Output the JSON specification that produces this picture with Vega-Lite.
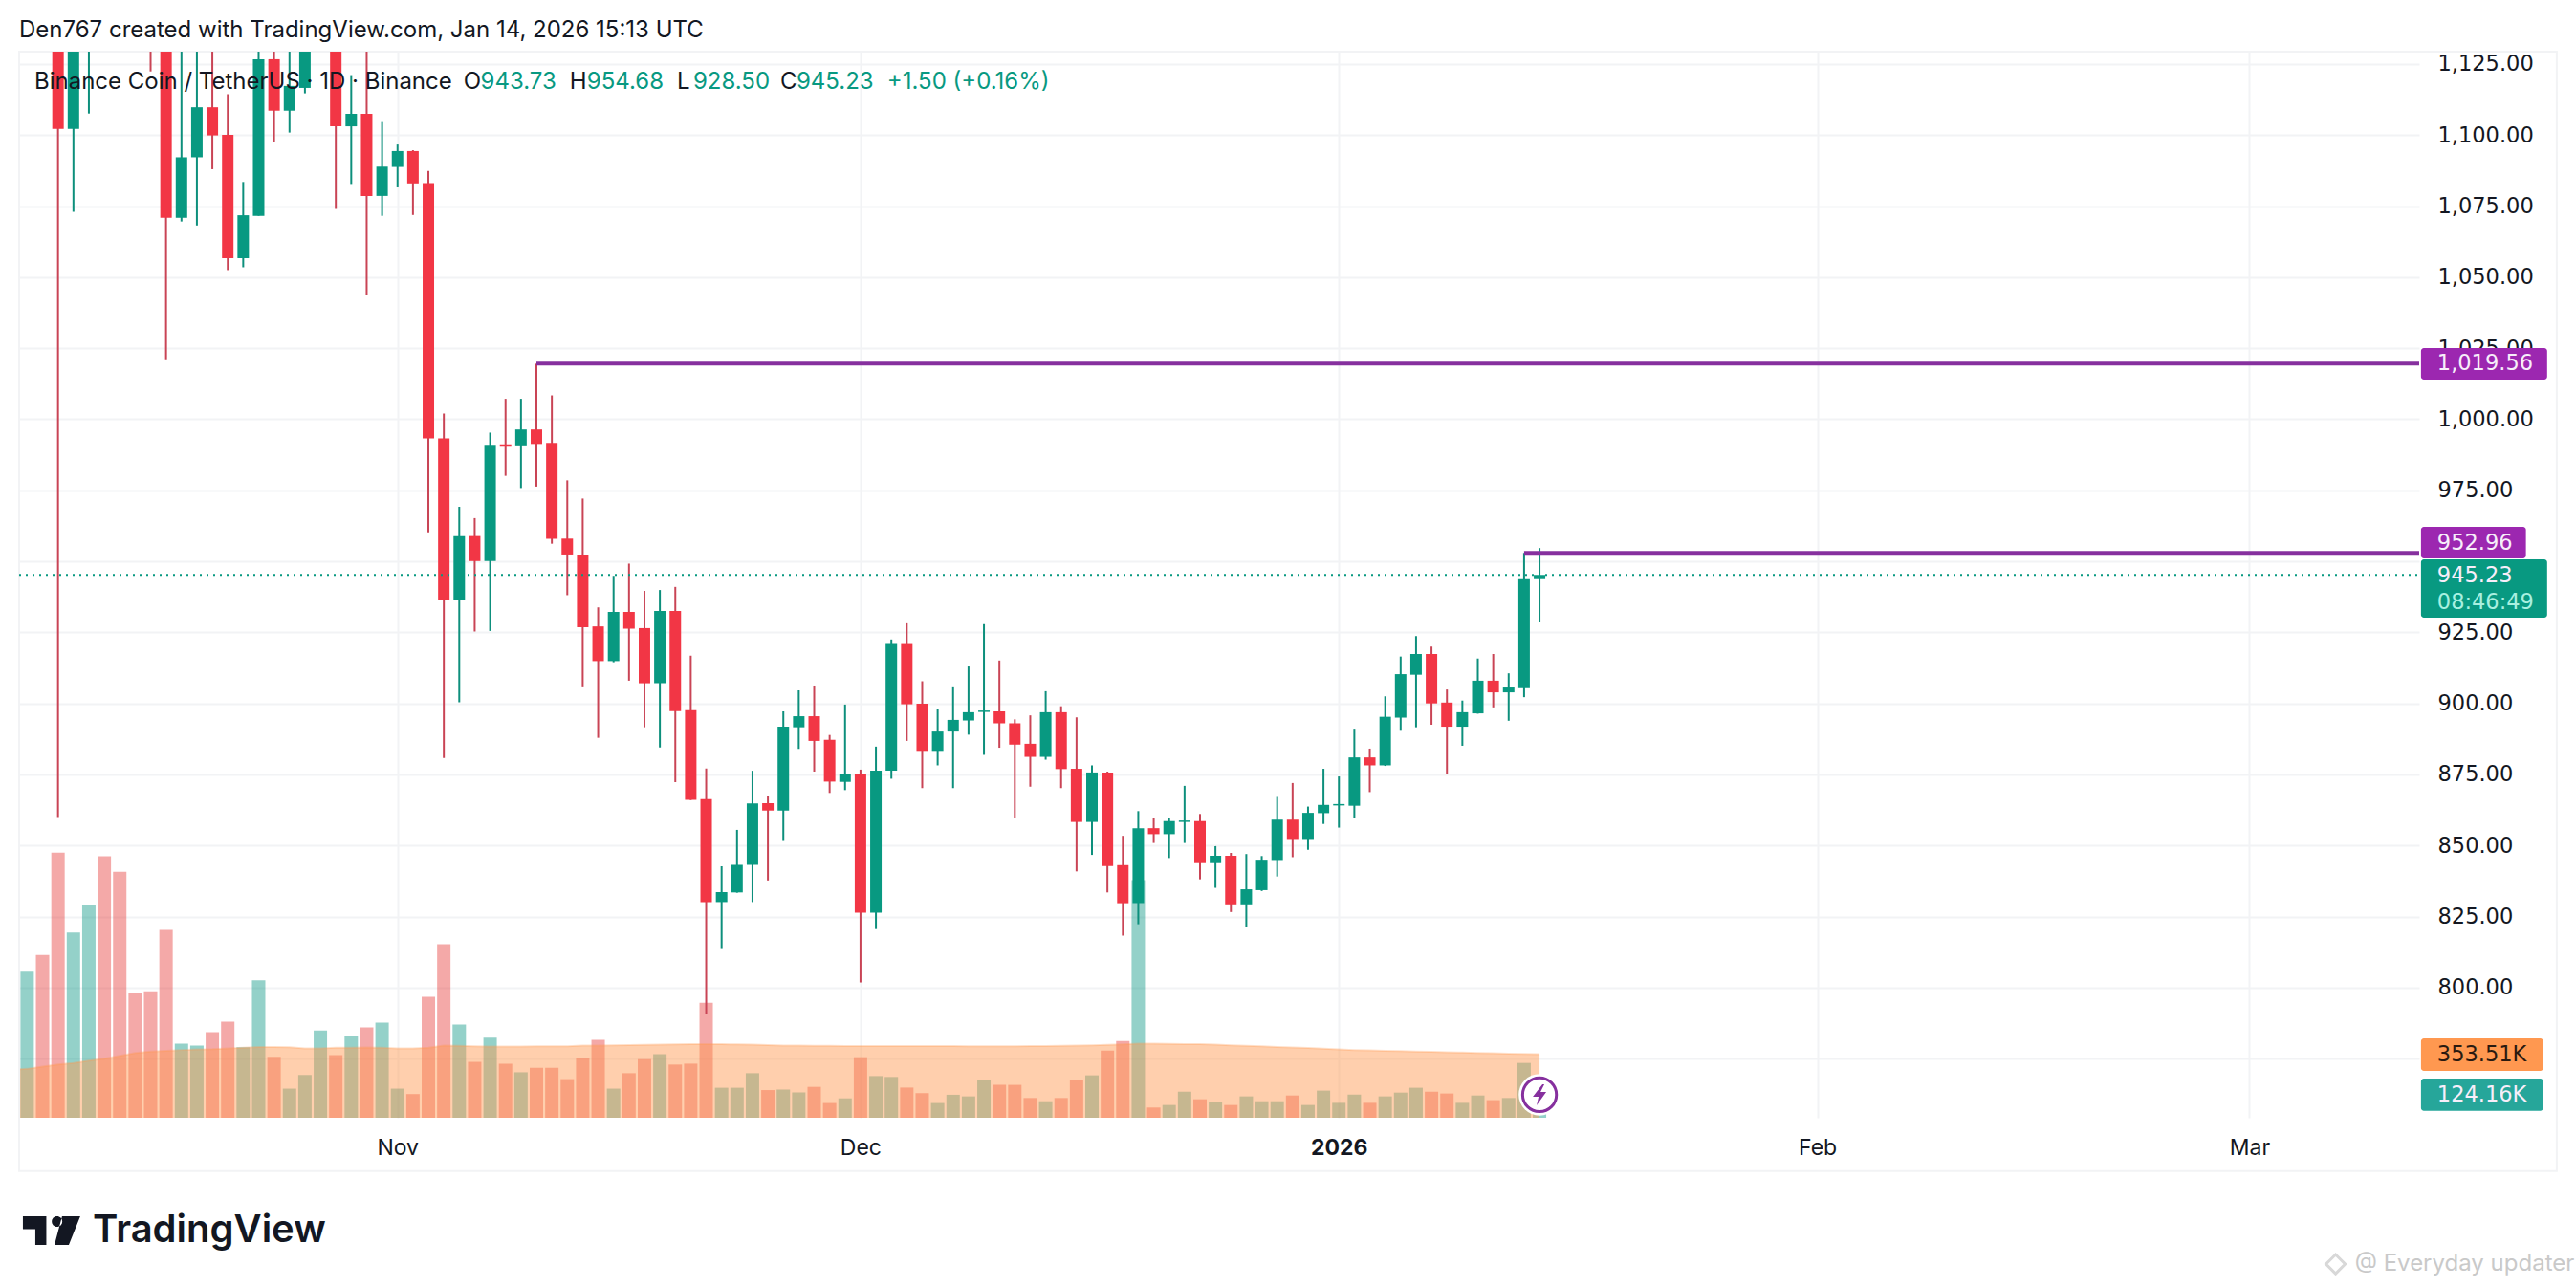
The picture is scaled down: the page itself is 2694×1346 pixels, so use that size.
{
"$schema":"https://vega.github.io/schema/vega-lite/v6.json",
"width":2510,"height":1115,"autosize":"none",
"padding":{"left":20,"top":54,"right":164,"bottom":177},
"background":"white",
"config":{"view":{"stroke":null},"font":"Inter"},
"title":{"text":"Den767 created with TradingView.com, Jan 14, 2026 15:13 UTC","anchor":"start","frame":"group","font":"Inter","fontSize":24,"fontWeight":"normal","color":"#131722","offset":9},
"datasets":{
"candles":[
{"date":"2025-10-07","open":1130,"high":1150,"low":1131,"close":1140,"volume":300,"ma":268},
{"date":"2025-10-08","open":1140,"high":1175,"low":1132,"close":1165,"volume":812,"ma":272},
{"date":"2025-10-09","open":1165,"high":1170,"low":1135,"close":1140,"volume":906,"ma":285},
{"date":"2025-10-10","open":1165,"high":1175,"low":860,"close":1102.2,"volume":1475,"ma":297},
{"date":"2025-10-11","open":1102.2,"high":1170,"low":1073,"close":1160,"volume":1030,"ma":305},
{"date":"2025-10-12","open":1135,"high":1175,"low":1107.6,"close":1170,"volume":1184,"ma":318},
{"date":"2025-10-13","open":1170,"high":1180,"low":1135,"close":1150,"volume":1455,"ma":328},
{"date":"2025-10-14","open":1150,"high":1155,"low":1132,"close":1135,"volume":1369,"ma":345},
{"date":"2025-10-15","open":1148,"high":1155,"low":1132,"close":1140,"volume":693,"ma":360},
{"date":"2025-10-16","open":1160,"high":1170,"low":1122.4,"close":1140,"volume":703,"ma":368},
{"date":"2025-10-17","open":1140,"high":1150,"low":1021.1,"close":1070.9,"volume":1045,"ma":373},
{"date":"2025-10-18","open":1070.9,"high":1135,"low":1069.6,"close":1092.2,"volume":412,"ma":377},
{"date":"2025-10-19","open":1092.2,"high":1135,"low":1068.2,"close":1109.8,"volume":402,"ma":380},
{"date":"2025-10-20","open":1109.8,"high":1135,"low":1088,"close":1099.9,"volume":476,"ma":382},
{"date":"2025-10-21","open":1100.1,"high":1114.4,"low":1052.5,"close":1056.7,"volume":534,"ma":386},
{"date":"2025-10-22","open":1056.7,"high":1083.5,"low":1053.5,"close":1071.8,"volume":392,"ma":390},
{"date":"2025-10-23","open":1071.6,"high":1135,"low":1071.6,"close":1126.7,"volume":764,"ma":393},
{"date":"2025-10-24","open":1126.7,"high":1135,"low":1097.6,"close":1108.6,"volume":339,"ma":393},
{"date":"2025-10-25","open":1108.6,"high":1135,"low":1100.9,"close":1117.3,"volume":162,"ma":392},
{"date":"2025-10-26","open":1116.6,"high":1140,"low":1114.7,"close":1135,"volume":238,"ma":386},
{"date":"2025-10-27","open":1135,"high":1150,"low":1131,"close":1145,"volume":486,"ma":386},
{"date":"2025-10-28","open":1145,"high":1160,"low":1074,"close":1103.1,"volume":349,"ma":389},
{"date":"2025-10-29","open":1103.1,"high":1121.1,"low":1082.8,"close":1107.5,"volume":455,"ma":390},
{"date":"2025-10-30","open":1107.5,"high":1132,"low":1043.6,"close":1078.6,"volume":503,"ma":391},
{"date":"2025-10-31","open":1078.6,"high":1104.6,"low":1071.6,"close":1088.9,"volume":529,"ma":390},
{"date":"2025-11-01","open":1088.8,"high":1096.7,"low":1081.6,"close":1094.4,"volume":162,"ma":386},
{"date":"2025-11-02","open":1094.4,"high":1094.7,"low":1071.9,"close":1083,"volume":132,"ma":385},
{"date":"2025-11-03","open":1083.1,"high":1087.4,"low":960.2,"close":993.3,"volume":673,"ma":390},
{"date":"2025-11-04","open":993.3,"high":1002,"low":880.8,"close":936.4,"volume":966,"ma":401},
{"date":"2025-11-05","open":936.4,"high":969.2,"low":900.4,"close":958.9,"volume":519,"ma":400},
{"date":"2025-11-06","open":958.9,"high":965.2,"low":925.3,"close":950.1,"volume":311,"ma":398},
{"date":"2025-11-07","open":950.1,"high":995.3,"low":925.5,"close":991,"volume":445,"ma":396},
{"date":"2025-11-08","open":991.2,"high":1007.2,"low":980.1,"close":990.7,"volume":301,"ma":396},
{"date":"2025-11-09","open":990.8,"high":1007.2,"low":975.8,"close":996.4,"volume":253,"ma":396},
{"date":"2025-11-10","open":996.4,"high":1019.56,"low":976.3,"close":991.3,"volume":278,"ma":397},
{"date":"2025-11-11","open":991.7,"high":1008.4,"low":956.2,"close":957.9,"volume":278,"ma":397},
{"date":"2025-11-12","open":958,"high":978.5,"low":938.1,"close":952.4,"volume":215,"ma":398},
{"date":"2025-11-13","open":952.4,"high":972.1,"low":906,"close":926.8,"volume":331,"ma":401},
{"date":"2025-11-14","open":927.1,"high":933.8,"low":887.9,"close":914.9,"volume":433,"ma":402},
{"date":"2025-11-15","open":914.9,"high":944.9,"low":914.5,"close":932.2,"volume":162,"ma":403},
{"date":"2025-11-16","open":932.2,"high":949.2,"low":908,"close":926.3,"volume":248,"ma":404},
{"date":"2025-11-17","open":926.5,"high":939.6,"low":891.6,"close":907.1,"volume":326,"ma":406},
{"date":"2025-11-18","open":907.1,"high":939.9,"low":884.5,"close":932.5,"volume":354,"ma":407},
{"date":"2025-11-19","open":932.5,"high":941,"low":872.3,"close":897.3,"volume":296,"ma":408},
{"date":"2025-11-20","open":897.6,"high":916.8,"low":866,"close":866.1,"volume":301,"ma":409},
{"date":"2025-11-21","open":866.3,"high":877.1,"low":790.7,"close":830.1,"volume":640,"ma":410},
{"date":"2025-11-22","open":830.1,"high":842.7,"low":813.9,"close":833.6,"volume":167,"ma":409},
{"date":"2025-11-23","open":833.5,"high":855.5,"low":833.4,"close":843.2,"volume":167,"ma":408},
{"date":"2025-11-24","open":843.2,"high":876.3,"low":830.1,"close":864.8,"volume":248,"ma":407},
{"date":"2025-11-25","open":864.9,"high":867.6,"low":837.7,"close":862.3,"volume":154,"ma":404},
{"date":"2025-11-26","open":862.3,"high":897.2,"low":851.6,"close":891.8,"volume":157,"ma":402},
{"date":"2025-11-27","open":891.6,"high":904.6,"low":884,"close":895.5,"volume":141,"ma":401},
{"date":"2025-11-28","open":895.5,"high":906.3,"low":876,"close":886.8,"volume":172,"ma":400},
{"date":"2025-11-29","open":887.2,"high":888.9,"low":868.5,"close":872.5,"volume":82,"ma":400},
{"date":"2025-11-30","open":872.4,"high":899.6,"low":869.5,"close":875.3,"volume":108,"ma":399},
{"date":"2025-12-01","open":875.3,"high":876.7,"low":801.8,"close":826.4,"volume":337,"ma":399},
{"date":"2025-12-02","open":826.4,"high":884.8,"low":820.6,"close":876.3,"volume":232,"ma":399},
{"date":"2025-12-03","open":876.3,"high":922.5,"low":873.5,"close":920.9,"volume":227,"ma":399},
{"date":"2025-12-04","open":920.9,"high":928.2,"low":886.8,"close":899.7,"volume":168,"ma":399},
{"date":"2025-12-05","open":899.9,"high":907.8,"low":870.2,"close":883.3,"volume":137,"ma":399},
{"date":"2025-12-06","open":883.3,"high":897.9,"low":878.2,"close":890.1,"volume":82,"ma":399},
{"date":"2025-12-07","open":890.1,"high":906,"low":870.2,"close":894.2,"volume":128,"ma":399},
{"date":"2025-12-08","open":894,"high":913,"low":889,"close":896.9,"volume":119,"ma":398},
{"date":"2025-12-09","open":897,"high":927.9,"low":881.9,"close":897.5,"volume":209,"ma":398},
{"date":"2025-12-10","open":897.2,"high":915.1,"low":884.4,"close":893,"volume":183,"ma":398},
{"date":"2025-12-11","open":893,"high":894.4,"low":859.7,"close":885.5,"volume":183,"ma":398},
{"date":"2025-12-12","open":885.8,"high":895.8,"low":870.7,"close":881.2,"volume":110,"ma":399},
{"date":"2025-12-13","open":881.2,"high":904.3,"low":880.2,"close":896.9,"volume":92,"ma":399},
{"date":"2025-12-14","open":896.9,"high":899,"low":870.2,"close":876.9,"volume":110,"ma":400},
{"date":"2025-12-15","open":877,"high":895.1,"low":840.9,"close":858.3,"volume":209,"ma":401},
{"date":"2025-12-16","open":858.3,"high":878.2,"low":846.7,"close":875.7,"volume":236,"ma":403},
{"date":"2025-12-17","open":875.7,"high":876,"low":833.5,"close":842.8,"volume":374,"ma":405},
{"date":"2025-12-18","open":843.1,"high":853.4,"low":818.3,"close":829.7,"volume":427,"ma":408},
{"date":"2025-12-19","open":829.7,"high":862.1,"low":822.3,"close":856.1,"volume":1322,"ma":412},
{"date":"2025-12-20","open":856.1,"high":859.6,"low":850.9,"close":854,"volume":57,"ma":412},
{"date":"2025-12-21","open":854,"high":859.7,"low":845.6,"close":858.6,"volume":71,"ma":411},
{"date":"2025-12-22","open":858.3,"high":871,"low":850.9,"close":858.8,"volume":145,"ma":410},
{"date":"2025-12-23","open":858.6,"high":861.1,"low":838.1,"close":843.8,"volume":103,"ma":409},
{"date":"2025-12-24","open":843.8,"high":849.8,"low":835.1,"close":846.4,"volume":89,"ma":407},
{"date":"2025-12-25","open":846.4,"high":847.4,"low":826.6,"close":829.3,"volume":71,"ma":403},
{"date":"2025-12-26","open":829.3,"high":847,"low":821.3,"close":834.6,"volume":119,"ma":400},
{"date":"2025-12-27","open":834.3,"high":846.3,"low":834,"close":845,"volume":92,"ma":397},
{"date":"2025-12-28","open":844.9,"high":867.1,"low":839.1,"close":859.1,"volume":92,"ma":394},
{"date":"2025-12-29","open":859.1,"high":872,"low":845.9,"close":852.3,"volume":124,"ma":391},
{"date":"2025-12-30","open":852.3,"high":863.7,"low":848.5,"close":861.5,"volume":71,"ma":388},
{"date":"2025-12-31","open":861.4,"high":877,"low":857.6,"close":864.3,"volume":151,"ma":384},
{"date":"2026-01-01","open":864.1,"high":874.3,"low":856.3,"close":864.6,"volume":83,"ma":380},
{"date":"2026-01-02","open":864,"high":891.1,"low":859.7,"close":881,"volume":129,"ma":377},
{"date":"2026-01-03","open":881,"high":884.1,"low":868.8,"close":878.2,"volume":83,"ma":375},
{"date":"2026-01-04","open":878.2,"high":902.5,"low":878,"close":895.3,"volume":119,"ma":373},
{"date":"2026-01-05","open":895,"high":916.5,"low":890.7,"close":910.3,"volume":140,"ma":371},
{"date":"2026-01-06","open":910.1,"high":923.7,"low":891.6,"close":917.4,"volume":167,"ma":369},
{"date":"2026-01-07","open":917.4,"high":920,"low":892.5,"close":900,"volume":145,"ma":367},
{"date":"2026-01-08","open":900.3,"high":904.9,"low":875,"close":891.8,"volume":135,"ma":365},
{"date":"2026-01-09","open":891.8,"high":901,"low":885.1,"close":896.9,"volume":83,"ma":363},
{"date":"2026-01-10","open":896.5,"high":915.8,"low":896.4,"close":908,"volume":124,"ma":361},
{"date":"2026-01-11","open":908,"high":917.4,"low":898.6,"close":903.9,"volume":98,"ma":359},
{"date":"2026-01-12","open":903.9,"high":910.6,"low":893.9,"close":905.6,"volume":110,"ma":357},
{"date":"2026-01-13","open":905.4,"high":952.96,"low":902.2,"close":943.7,"volume":305,"ma":355},
{"date":"2026-01-14","open":943.73,"high":954.68,"low":928.5,"close":945.23,"volume":124.16,"ma":353.51}
],
"levels":[
{"date":"2025-11-10","date2":"2026-03-12","price":1019.56},
{"date":"2026-01-13","date2":"2026-03-12","price":952.96}
],
"last":[{"date":"2025-10-07T11:31:00Z","date2":"2026-03-12","price":945.23}],
"frame":[{"date":"2025-10-07T11:31:00Z","date2":"2026-03-20T22:00:00Z","price":1129.37,"price2":735.4}],
"tags":[
{"date":"2026-03-12T02:50:00Z","date2":"2026-03-20T07:00:00Z","price":1025.07,"price2":1013.96,"tone":"level"},
{"date":"2026-03-12T02:50:00Z","date2":"2026-03-18T22:00:00Z","price":962.15,"price2":951.04,"tone":"level"},
{"date":"2026-03-12T02:50:00Z","date2":"2026-03-20T07:00:00Z","price":950.7,"price2":930.18,"tone":"last"},
{"date":"2026-03-12T02:50:00Z","date2":"2026-03-20T01:00:00Z","price":782.1,"price2":770.7,"tone":"ma"},
{"date":"2026-03-12T02:50:00Z","date2":"2026-03-20T01:00:00Z","price":768,"price2":756.6,"tone":"vol"}
],
"labels":[
{"date":"2025-10-08T11:17:00Z","price":1118.5,"label":"Binance Coin / TetherUS · 1D · Binance","tone":"ink"},
{"date":"2025-11-05T06:29:00Z","price":1118.5,"label":"O","tone":"ink"},
{"date":"2025-11-06T09:07:00Z","price":1118.5,"label":"943.73","tone":"up"},
{"date":"2025-11-12T03:50:00Z","price":1118.5,"label":"H","tone":"ink"},
{"date":"2025-11-13T06:29:00Z","price":1118.5,"label":"954.68","tone":"up"},
{"date":"2025-11-19T02:30:00Z","price":1118.5,"label":"L","tone":"ink"},
{"date":"2025-11-20T03:50:00Z","price":1118.5,"label":"928.50","tone":"up"},
{"date":"2025-11-25T19:10:00Z","price":1118.5,"label":"C","tone":"ink"},
{"date":"2025-11-26T20:25:00Z","price":1118.5,"label":"945.23","tone":"up"},
{"date":"2025-12-02T17:30:00Z","price":1118.5,"label":"+1.50 (+0.16%)","tone":"up"},
{"date":"2026-03-07T20:00:00Z","price":702.7,"label":"@ Everyday updater","tone":"mark"}
],
"taglabels":[
{"date":"2026-03-13T04:00:00Z","price":1019.7,"label":"1,019.56","tone":"light"},
{"date":"2026-03-13T04:00:00Z","price":956.4,"label":"952.96","tone":"light"},
{"date":"2026-03-13T04:00:00Z","price":945,"label":"945.23","tone":"light"},
{"date":"2026-03-13T04:00:00Z","price":935.7,"label":"08:46:49","tone":"mint"},
{"date":"2026-03-13T04:00:00Z","price":776.5,"label":"353.51K","tone":"dark"},
{"date":"2026-03-13T04:00:00Z","price":762.3,"label":"124.16K","tone":"light"}
],
"logo":[{"date":"2025-10-09T14:00:00Z","price":714.5}],
"logotext":[{"date":"2025-10-12T06:00:00Z","price":714.5,"label":"TradingView"}],
"today":[{"date":"2026-01-14","price":762.3}],
"stamp":[{"date":"2026-03-06T14:00:00Z","price":702.7}]
},
"encoding":{"x":{"field":"date","type":"temporal","title":null,
"scale":{"type":"utc","padding":0,"domain":["2025-10-07T11:31:00Z","2026-03-12T00:00:00Z"]},
"axis":{"orient":"bottom","values":["2025-11-01","2025-12-01","2026-01-01","2026-02-01","2026-03-01"],
"labelExpr":"utcmonth(datum.value)==0?'2026':utcFormat(datum.value,'%b')",
"labelFontWeight":{"condition":{"test":"utcmonth(datum.value)==0","value":"bold"},"value":"normal"},
"grid":true,"gridColor":"#f2f3f5","gridWidth":2,"domain":false,"ticks":false,"tickSize":0,"labelPadding":31,"labelBaseline":"middle","labelFontSize":23,"labelColor":"#131722","labelFlush":false,"labelOverlap":false}}},
"layer":[
{"encoding":{"y":{"type":"quantitative","title":null,"axis":null,"scale":{"domain":[0,5931],"nice":false,"zero":false}}},
"data":{"name":"candles"},
"layer":[
{"mark":{"type":"bar","size":14,"orient":"vertical","opacity":0.42,"clip":true},
"encoding":{"y":{"field":"volume","type":"quantitative"},
"color":{"condition":{"test":"datum.close>=datum.open","value":"#00917e"},"value":"#e53230"}}},
{"mark":{"type":"area","color":"#ff9850","opacity":0.47,"clip":true,"interpolate":"linear"},
"encoding":{"y":{"field":"ma","type":"quantitative"}}},
{"mark":{"type":"line","color":"#ff9850","opacity":0.3,"strokeWidth":2,"clip":true},
"encoding":{"y":{"field":"ma","type":"quantitative"}}}
]},
{"encoding":{"y":{"type":"quantitative","title":null,
"scale":{"domain":[754.2,1129.37],"nice":false,"zero":false},
"axis":{"orient":"right","values":[775,800,825,850,875,900,925,950,975,1000,1025,1050,1075,1100,1125],"labelExpr":"datum.value==950||datum.value==775?'':format(datum.value,',.2f')","grid":true,"gridColor":"#f2f3f5","gridWidth":2,"domain":false,"ticks":false,"tickSize":0,"labelPadding":19,"labelAlign":"left","labelBaseline":"middle","labelFont":"DejaVu Sans","labelFontSize":22.5,"labelColor":"#131722","labelOverlap":false,"labelFlush":false}}},
"layer":[
{"data":{"name":"frame"},"mark":{"type":"rect","fillOpacity":0,"stroke":"#f2f3f5","strokeWidth":2},
"encoding":{"x2":{"field":"date2"},"y":{"field":"price","type":"quantitative"},"y2":{"field":"price2"}}},
{"data":{"name":"candles"},"mark":{"type":"rule","strokeWidth":2,"clip":true},
"encoding":{"y":{"field":"low","type":"quantitative"},"y2":{"field":"high"},
"color":{"condition":{"test":"datum.close>=datum.open","value":"#0d8f7c"},"value":"#c94455"}}},
{"data":{"name":"candles"},"mark":{"type":"bar","size":12,"orient":"vertical","clip":true},
"encoding":{"y":{"field":"open","type":"quantitative"},"y2":{"field":"close"},
"color":{"condition":{"test":"datum.close>=datum.open","value":"#089981"},"value":"#f23645"}}},
{"data":{"name":"last"},"mark":{"type":"rule","strokeWidth":2,"strokeDash":[2,5],"color":"#089981"},
"encoding":{"x2":{"field":"date2"},"y":{"field":"price","type":"quantitative"}}},
{"data":{"name":"levels"},"mark":{"type":"rule","strokeWidth":4,"color":"#86309e"},
"encoding":{"x2":{"field":"date2"},"y":{"field":"price","type":"quantitative"}}},
{"data":{"name":"tags"},"mark":{"type":"rect","cornerRadius":3},
"encoding":{"x2":{"field":"date2"},"y":{"field":"price","type":"quantitative"},"y2":{"field":"price2"},
"fill":{"field":"tone","type":"nominal","legend":null,"scale":{"domain":["level","last","ma","vol"],"range":["#9c27b0","#089981","#ff9850","#26a69a"]}}}},
{"data":{"name":"labels"},"mark":{"type":"text","align":"left","baseline":"middle","fontSize":24},
"encoding":{"y":{"field":"price","type":"quantitative"},"text":{"field":"label"},
"color":{"field":"tone","type":"nominal","legend":null,"scale":{"domain":["ink","up","mark","dark","light","mint"],"range":["#131722","#089981","#c9c9c9","#2a1a10","#f7eefa","#a8f0e0"]}}}},
{"data":{"name":"taglabels"},"mark":{"type":"text","align":"left","baseline":"middle","font":"DejaVu Sans","fontSize":22.5},
"encoding":{"y":{"field":"price","type":"quantitative"},"text":{"field":"label"},
"color":{"field":"tone","type":"nominal","legend":null,"scale":{"domain":["ink","up","mark","dark","light","mint"],"range":["#131722","#089981","#c9c9c9","#2a1a10","#f7eefa","#a8f0e0"]}}}},
{"data":{"name":"logo"},"mark":{"type":"point","filled":true,"opacity":1,"size":4,"color":"#131722","shape":"M-30,-15H-5.5V15H-17V-1.5H-30Z M11,-15H30L18,15H3Z M0.2,-9.5a5.5,5.5 0 1,0 11,0a5.5,5.5 0 1,0 -11,0Z"},
"encoding":{"y":{"field":"price","type":"quantitative"}}},
{"data":{"name":"logotext"},"mark":{"type":"text","align":"left","baseline":"middle","fontSize":40,"fontWeight":600,"color":"#131722"},
"encoding":{"y":{"field":"price","type":"quantitative"},"text":{"field":"label"}}},
{"data":{"name":"today"},"mark":{"type":"point","shape":"circle","filled":true,"opacity":1,"size":1900,"color":"white"},
"encoding":{"y":{"field":"price","type":"quantitative"}}},
{"data":{"name":"today"},"mark":{"type":"point","shape":"circle","fill":"white","fillOpacity":1,"opacity":1,"size":1250,"stroke":"#86309e","strokeWidth":3},
"encoding":{"y":{"field":"price","type":"quantitative"}}},
{"data":{"name":"today"},"mark":{"type":"point","filled":true,"opacity":1,"size":4,"color":"#86309e","shape":"M3,-11L-7,2H-1L-3,11L7,-3H1L5,-11Z"},
"encoding":{"y":{"field":"price","type":"quantitative"}}},
{"data":{"name":"stamp"},"mark":{"type":"point","shape":"diamond","size":400,"opacity":1,"fillOpacity":0,"stroke":"#d8d8d8","strokeWidth":3},
"encoding":{"y":{"field":"price","type":"quantitative"}}}
]}
],
"resolve":{"scale":{"y":"independent"}}
}
